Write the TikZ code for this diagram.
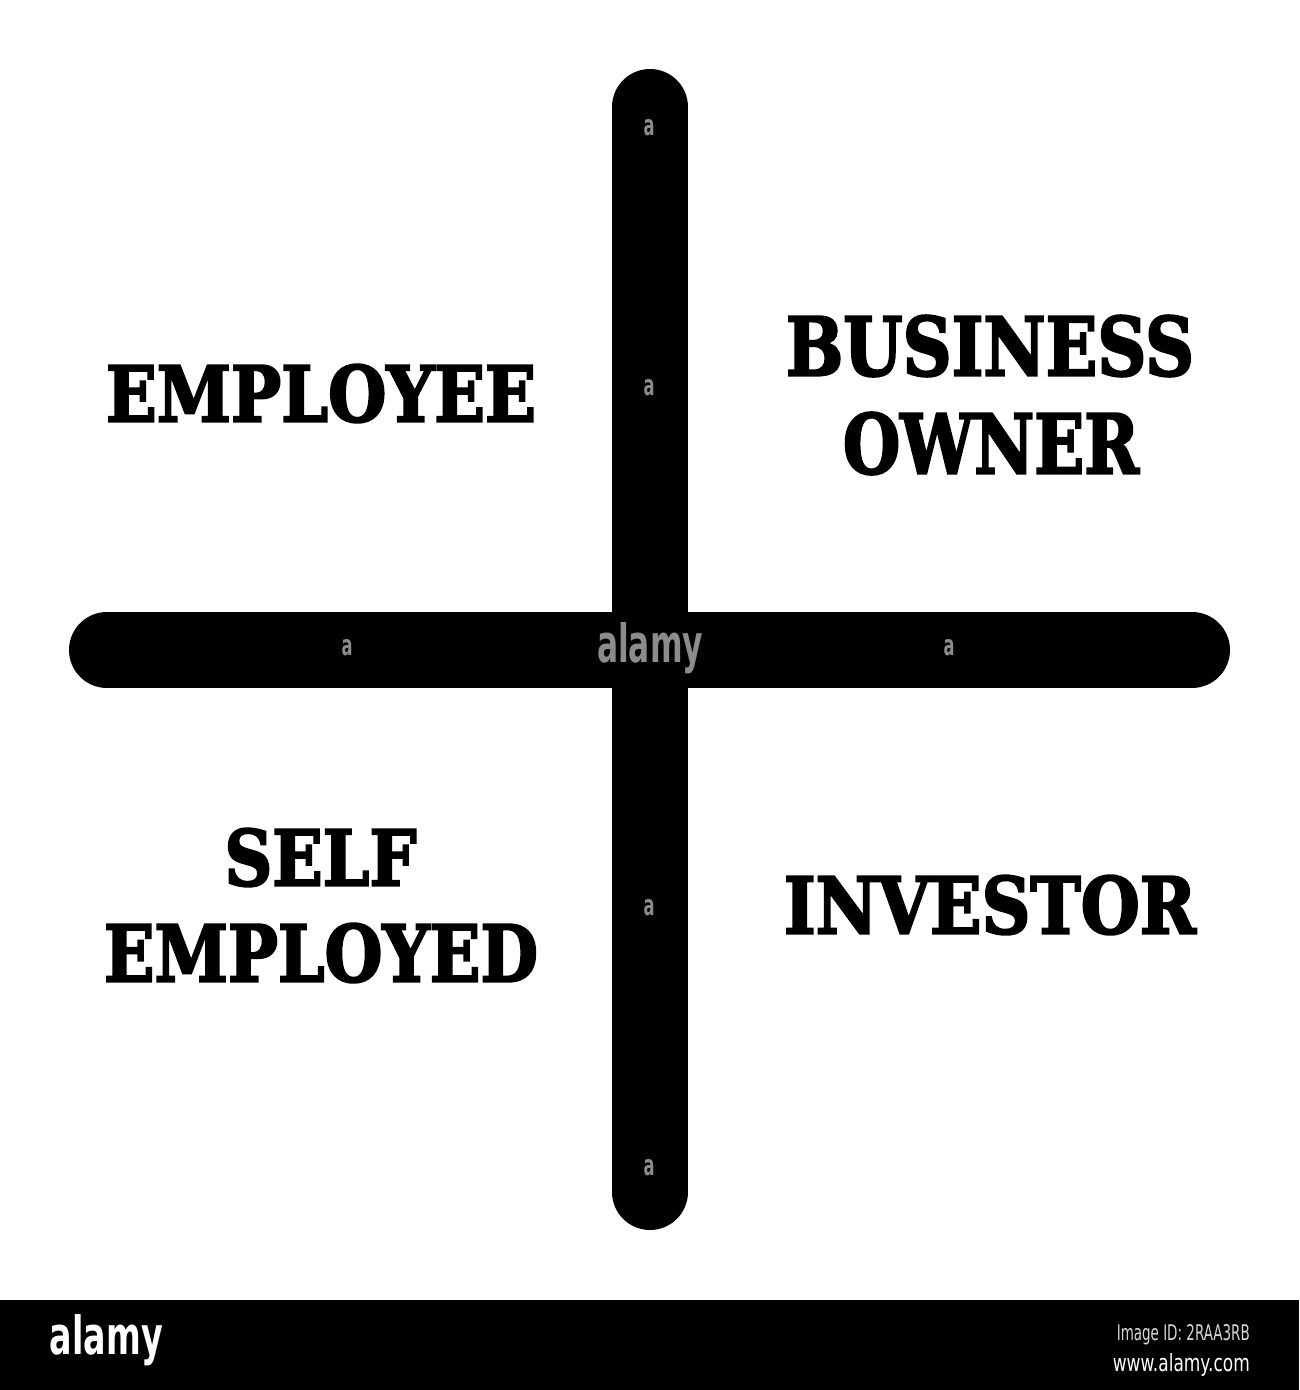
\documentclass[tikz,border=0pt]{standalone}
\usepackage{fontspec}
\setmainfont{DejaVu Serif}
\setsansfont{DejaVu Sans}
\newfontfamily\heavyfont{DejaVu Serif}[BoldFeatures={FakeBold=3}]
\begin{document}
\begin{tikzpicture}[x=1pt,y=-1pt,
  bar/.style={line width=76pt,line cap=round,black},
  word/.style={inner sep=0pt,outer sep=0pt,font=\heavyfont\bfseries,black},
  wmark/.style={inner sep=0pt,text=wmgray,font=\sffamily\bfseries},
  foot/.style={inner sep=0pt,font=\sffamily}]
\definecolor{wmgray}{RGB}{140,140,140}
\definecolor{footgray}{RGB}{215,215,215}
\useasboundingbox (0,0) rectangle (1299,1390);
\fill[white] (0,0) rectangle (1299,1390);
% cross
\coordinate (vtop) at (650,107);
\coordinate (vbot) at (650,1192);
\coordinate (hl) at (107,650);
\coordinate (hr) at (1192,650);
\draw[bar] (vtop) -- (vbot);
\draw[bar] (hl) -- (hr);
% labels
\node[word] (employee) at (321,393.5) {\resizebox{430pt}{57pt}{EMPLOYEE}};
\node[word] (business) at (990,346) {\resizebox{408pt}{60pt}{BUSINESS}};
\node[word] (owner) at (991,443.5) {\resizebox{296pt}{61pt}{OWNER}};
\node[word] (self) at (320.5,857.5) {\resizebox{192pt}{57pt}{SELF}};
\node[word] (employed) at (321,953) {\resizebox{434pt}{58pt}{EMPLOYED}};
\node[word] (investor) at (990,905) {\resizebox{412pt}{58pt}{INVESTOR}};
% watermarks
\node[wmark] (wm) at (650,648) {\resizebox{106pt}{40pt}{alamy}};
\foreach \n/\px/\py in {a1/649/128, a2/649/388, a3/347/648, a4/949/648, a5/649/908, a6/649/1168}
  \node[wmark] (\n) at (\px,\py) {\resizebox{11pt}{16pt}{a}};
% footer
\fill[black] (0,1300) rectangle (1299,1390);
\node[foot,text=white,font=\sffamily\bfseries] (logo) at (106.5,1340) {\resizebox{113pt}{40pt}{alamy}};
\node[foot,text=footgray,anchor=east] (imgid) at (1250,1335) {\resizebox{133pt}{16pt}{Image ID: 2RAA3RB}};
\node[foot,text=white,anchor=east] (url) at (1250,1365) {\resizebox{137pt}{18pt}{www.alamy.com}};
\end{tikzpicture}
\end{document}
